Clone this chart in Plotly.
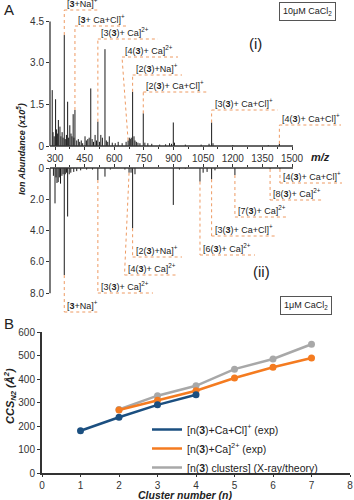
import plotly.graph_objects as go

# ---------------- data ----------------
# Panel A (i): 10 uM CaCl2 spectrum (m/z, abundance x10^5)
mz_top = [286, 290, 296, 303, 308, 312, 317, 325, 330, 336, 341, 347, 352, 358, 364, 369, 375,
          381, 386, 392, 396, 401, 410, 418, 425, 433, 440, 452, 459, 466, 473, 481, 488, 495,
          503, 510, 517, 525, 532, 540, 553, 560, 567, 575, 590, 605, 620, 640, 660, 670, 676,
          681, 686, 693, 700, 705, 712, 720, 730, 747, 755, 770, 790, 830, 860, 880, 890, 899,
          905, 960, 1040, 1080, 1093, 1100, 1200, 1380, 1436]
int_top = [2.02, 0.5, 0.35, 1.69, 0.6, 0.45, 0.94, 0.7, 0.35, 0.5, 0.3, 4.01, 0.25, 0.4, 1.6, 0.3, 0.75,
           0.45, 0.35, 1.15, 0.3, 1.3, 0.2, 0.25, 0.15, 0.2, 0.1, 0.35, 0.2, 0.25, 0.3, 2.08, 0.25, 0.15,
           0.4, 0.2, 0.88, 0.15, 0.4, 0.3, 3.5, 0.2, 0.15, 0.35, 0.12, 0.1, 0.15, 0.1, 0.15, 0.2, 0.3,
           0.25, 0.3, 1.96, 0.35, 0.2, 0.15, 0.12, 0.1, 1.18, 0.12, 0.1, 0.08, 0.05, 0.06, 0.1, 0.08, 0.85,
           0.12, 0.05, 0.05, 0.08, 0.85, 0.1, 0.03, 0.03, 0.08]

# Panel A (ii): 1 uM CaCl2 spectrum
mz_bot = [292, 300, 305, 310, 316, 322, 328, 335, 341, 347, 352, 358, 364, 372, 380, 395, 410, 430,
          460, 490, 517, 553, 580, 654, 675, 685, 693, 705, 899, 930, 960, 1034, 1050, 1070, 1093,
          1110, 1211, 1389, 1439]
int_bot = [0.5, 2.26, 0.6, 0.96, 0.9, 0.6, 1.0, 0.5, 0.4, 6.84, 0.4, 0.3, 3.1, 0.4, 0.3, 0.25, 0.2, 0.15,
           0.1, 0.1, 0.77, 0.55, 0.1, 0.1, 0.3, 0.3, 3.85, 0.4, 2.36, 0.1, 0.05, 0.87, 0.3, 0.25, 0.72,
           0.15, 0.45, 0.06, 0.06]

# peak labels
top_labels = ['[<b>3</b>+Na]<sup>+</sup>', '[<b>3</b>+ Ca+Cl]<sup>+</sup>', '[3(<b>3</b>)+ Ca]<sup>2+</sup>',
              '[4(<b>3</b>)+ Ca]<sup>2+</sup>', '[2(<b>3</b>)+Na]<sup>+</sup>', '[2(<b>3</b>)+ Ca+Cl]<sup>+</sup>',
              '[3(<b>3</b>)+ Ca+Cl]<sup>+</sup>', '[4(<b>3</b>)+ Ca+Cl]<sup>+</sup>']
top_label_mz = [347, 401, 517, 670, 693, 747, 1093, 1436]
bot_labels = ['[4(<b>3</b>)+ Ca+Cl]<sup>+</sup>', '[8(<b>3</b>)+ Ca]<sup>2+</sup>', '[7(<b>3</b>)+ Ca]<sup>2+</sup>',
              '[3(<b>3</b>)+ Ca+Cl]<sup>+</sup>', '[6(<b>3</b>)+ Ca]<sup>2+</sup>', '[2(<b>3</b>)+Na]<sup>+</sup>',
              '[4(<b>3</b>)+ Ca]<sup>2+</sup>', '[3(<b>3</b>)+ Ca]<sup>2+</sup>', '[<b>3</b>+Na]<sup>+</sup>']
bot_label_mz = [1439, 1389, 1211, 1093, 1034, 693, 675, 517, 347]

# Panel B: CCS vs cluster number
n_cacl = [1, 2, 3, 4]
ccs_cacl = [180, 237, 290, 333]
n_ca = [2, 3, 4, 5, 6, 7]
ccs_ca = [268, 310, 350, 404, 450, 489]
n_xray = [2, 3, 4, 5, 6, 7]
ccs_xray = [270, 329, 371, 442, 485, 548]
series_names = ['[n(<b>3</b>)+Ca+Cl]<sup>+</sup> (exp)', '[n(<b>3</b>)+Ca]<sup>2+</sup> (exp)',
                '[n(<b>3</b>) clusters] (X-ray/theory)']

# ---------------- layout geometry ----------------
W, H = 354, 500
PX_PER_MZ = 0.1975
MZ0 = 300 - 5 / PX_PER_MZ                 # m/z at left edge of spectrum axes
MZ1 = MZ0 + (W - 50) / PX_PER_MZ
TOP_PX = 27.67                            # px per unit (x10^5) top spectrum
BOT_PX = 15.65
top_range = [0, 146 / TOP_PX]
bot_range = [(320 - 168) / BOT_PX, 0]

def tv(ypx):   # top spectrum pixel -> data
    return (146 - ypx) / TOP_PX

def bv(ypx):
    return (ypx - 168) / BOT_PX

def mzpx(xpx):
    return 300 + (xpx - 55) / PX_PER_MZ

ORANGE = '#EE9A62'
FONT = 'Liberation Sans, Arial, sans-serif'

def sticks(mz, inten):
    xs, ys = [], []
    for m, h in zip(mz, inten):
        xs += [m, m, None]
        ys += [0, h, None]
    return xs, ys

fig = go.Figure()
xs, ys = sticks(mz_top, int_top)
fig.add_trace(go.Scatter(x=xs, y=ys, mode='lines', line=dict(color='#1a1a1a', width=1),
                         xaxis='x', yaxis='y', showlegend=False, hoverinfo='skip'))
xs, ys = sticks(mz_bot, int_bot)
fig.add_trace(go.Scatter(x=xs, y=ys, mode='lines', line=dict(color='#1a1a1a', width=1),
                         xaxis='x2', yaxis='y2', showlegend=False, hoverinfo='skip'))

colors = ['#1B4F80', '#F47B20', '#A8A8A8']
for (nx, cy, c) in [(n_cacl, ccs_cacl, colors[0]), (n_ca, ccs_ca, colors[1]), (n_xray, ccs_xray, colors[2])][::-1]:
    fig.add_trace(go.Scatter(x=nx, y=cy, mode='lines+markers', line=dict(color=c, width=2.5),
                             marker=dict(color=c, size=7), xaxis='x3', yaxis='y3', showlegend=False))
for name, c in zip(series_names, colors):
    fig.add_trace(go.Scatter(x=[None], y=[None], mode='lines', line=dict(color=c, width=2.5),
                             name=name, xaxis='x3', yaxis='y3'))

shapes = []
annotations = []

# axis spines / baselines for spectra
shapes.append(dict(type='line', xref='x domain', x0=0, x1=0, yref='y', y0=0, y1=4.5,
                   line=dict(color='#333', width=1.3)))
shapes.append(dict(type='line', xref='x', x0=MZ0, x1=mzpx(293), yref='y domain', y0=0, y1=0,
                   line=dict(color='#333', width=1.3)))
shapes.append(dict(type='line', xref='x2 domain', x0=0, x1=0, yref='y2', y0=0, y1=8,
                   line=dict(color='#333', width=1.3)))
shapes.append(dict(type='line', xref='x2', x0=MZ0, x1=mzpx(293), yref='y2 domain', y0=1, y1=1,
                   line=dict(color='#333', width=1.3)))

# top label geometry: (underline y px, right end x px, leader start x px)
top_geom = [(10, 99, None), (26, 128, None), (39, 158, None), (57, 178, 122),
            (75, 182, None), (92, 208, None), (110, 278, None), (125, 341, None)]
mz_to_h_top = dict(zip(mz_top, int_top))
for lab, m, (uy, rx, sx) in zip(top_labels, top_label_mz, top_geom):
    xstart = mzpx(sx) if sx else m
    ul = tv(uy)
    shapes.append(dict(type='line', xref='x', yref='y', x0=m, x1=xstart, y0=mz_to_h_top.get(m, 0),
                       y1=ul, line=dict(color=ORANGE, width=1, dash='dot')))
    shapes.append(dict(type='line', xref='x', yref='y', x0=xstart, x1=mzpx(rx), y0=ul, y1=ul,
                       line=dict(color=ORANGE, width=1, dash='dot')))
    annotations.append(dict(text=lab, xref='x', yref='y', x=xstart, y=ul, xanchor='left',
                            yanchor='bottom', xshift=1, yshift=-1, showarrow=False,
                            font=dict(size=9, family=FONT, color='#222')))

bot_geom = [(183, 342, None), (200, 322, None), (217, 288, None), (236, 276, None),
            (255, 255, None), (257, 182, None), (275, 176, 124.5), (293, 153, None), (312, 100, None)]
mz_to_h_bot = dict(zip(mz_bot, int_bot))
for lab, m, (uy, rx, sx) in zip(bot_labels, bot_label_mz, bot_geom):
    xstart = mzpx(sx) if sx else m
    ul = bv(uy)
    shapes.append(dict(type='line', xref='x2', yref='y2', x0=m, x1=xstart, y0=mz_to_h_bot.get(m, 0),
                       y1=ul, line=dict(color=ORANGE, width=1, dash='dot')))
    shapes.append(dict(type='line', xref='x2', yref='y2', x0=xstart, x1=mzpx(rx), y0=ul, y1=ul,
                       line=dict(color=ORANGE, width=1, dash='dot')))
    annotations.append(dict(text=lab, xref='x2', yref='y2', x=xstart, y=ul, xanchor='left',
                            yanchor='bottom', xshift=1, yshift=-1, showarrow=False,
                            font=dict(size=9, family=FONT, color='#222')))

def pp(xpx, ypx):
    return xpx / W, 1 - ypx / H

def txt(text, xpx, ypx, size, **kw):
    x, y = pp(xpx, ypx)
    d = dict(text=text, xref='paper', yref='paper', x=x, y=y, showarrow=False,
             xanchor='center', yanchor='middle',
             font=dict(size=size, family=FONT, color='#222'))
    d.update(kw)
    annotations.append(d)

txt('A', 9, 9, 15)
txt('B', 9, 323, 15)
txt('(i)', 255, 44, 15)
txt('(ii)', 261, 271, 15)
txt('10μM CaCl<sub>2</sub>', 307, 11, 9, bordercolor='#555', borderwidth=1, borderpad=3)
txt('1μM CaCl<sub>2</sub>', 306, 305, 9, bordercolor='#555', borderwidth=1, borderpad=3)
txt('<b><i>m/z</i></b>', 320, 157, 11)
txt('<b><i>Ion Abundance (x10<sup>5</sup>)</i></b>', 21, 149, 9, textangle=-90)
txt('<b><i>CCS<sub>N2</sub> (Å<sup>2</sup>)</i></b>', 10, 396, 11, textangle=-90)
txt('<b><i>Cluster number (n)</i></b>', 185, 495, 10.5)

tickfont = dict(size=10, family=FONT, color='#333')
spec_ticks = [300, 450, 600, 750, 900, 1050, 1200, 1350, 1500]
minor_ticks = [375, 525, 675, 825, 975, 1125, 1275, 1425]

fig.update_layout(
    width=W, height=H, margin=dict(l=0, r=0, t=0, b=0, autoexpand=False),
    paper_bgcolor='white', plot_bgcolor='white',
    showlegend=True,
    legend=dict(x=147 / W, y=1 - 415 / H, xanchor='left', yanchor='top',
                font=dict(size=10.5, family=FONT, color='#222'), bgcolor='rgba(0,0,0,0)',
                itemwidth=30, tracegroupgap=0, borderwidth=0),
    xaxis=dict(domain=[50 / W, 1], range=[MZ0, MZ1], anchor='y', showline=False, showgrid=False,
               zeroline=False, tickvals=spec_ticks, ticks='outside', ticklen=3, tickcolor='#333',
               tickfont=tickfont,
               minor=dict(tickvals=minor_ticks, ticks='outside', ticklen=2, tickcolor='#333')),
    yaxis=dict(domain=[1 - 146 / H, 1], range=top_range, anchor='x', showline=False, showgrid=False,
               zeroline=False, tickvals=[0, 1.5, 3, 4.5], ticktext=['0', '1.5', '3.0', '4.5'],
               ticks='outside', ticklen=3, tickcolor='#333', tickfont=tickfont),
    xaxis2=dict(domain=[50 / W, 1], range=[MZ0, MZ1], anchor='y2', side='top', showline=False,
                showgrid=False, zeroline=False, tickvals=spec_ticks, ticks='outside', ticklen=3,
                tickcolor='#333', showticklabels=False,
                minor=dict(tickvals=minor_ticks, ticks='outside', ticklen=2, tickcolor='#333')),
    yaxis2=dict(domain=[1 - 320 / H, 1 - 168 / H], range=bot_range, anchor='x2', showline=False,
                showgrid=False, zeroline=False, tickvals=[0, 2, 4, 6, 8],
                ticktext=['0', '2.0', '4.0', '6.0', '8.0'], ticks='outside', ticklen=3,
                tickcolor='#333', tickfont=tickfont),
    xaxis3=dict(domain=[42 / W, 350 / W], range=[0, 8], anchor='y3', dtick=1, showline=True,
                linecolor='#333', linewidth=2, showgrid=False, zeroline=False, ticks='outside',
                ticklen=2, tickcolor='#333', tickfont=tickfont),
    yaxis3=dict(domain=[1 - 473 / H, 1 - 332 / H], range=[0, 600], anchor='x3', dtick=100,
                showline=True, linecolor='#333', linewidth=2, showgrid=False, zeroline=False,
                ticks='outside', ticklen=3, tickcolor='#333', tickfont=tickfont),
    shapes=shapes, annotations=annotations,
)

fig.write_html('out.html')
